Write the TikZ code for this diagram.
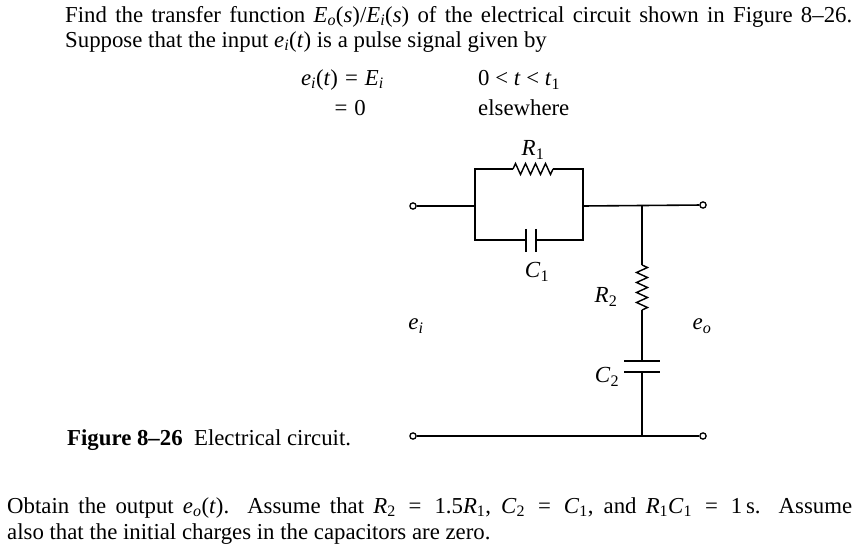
\documentclass[tikz,border=0pt]{standalone}
\usepackage{fontspec}
\setmainfont{Liberation Serif}
\usetikzlibrary{decorations.pathmorphing}
\newcommand\vv[2]{\textit{#1}\textsubscript{\textit{#2}}}
\newcommand\vn[2]{\textit{#1}\textsubscript{#2}}
\newcommand\qeq{\ \,=\,\ }
\begin{document}
\begin{tikzpicture}[x=1pt,y=-1pt,
  txt/.style={anchor=west,inner sep=0pt,font=\fontsize{22.8}{26}\selectfont},
  lab/.style={inner sep=0pt,font=\fontsize{23}{26}\selectfont},
  wire/.style={line width=1.6pt},
  term/.style={circle,draw,line width=1.3pt,inner sep=2.2pt,fill=white},
  res/.style={line width=1.4pt,decorate,decoration={zigzag,segment length=10pt,amplitude=5.5pt}}]
\useasboundingbox (0,0) rectangle (861,553);
% text
\node[txt] (l1) at (65,17) {\makebox[787pt][s]{Find the transfer function \vv{E}{o}(\textit{s})/\vv{E}{i}(\textit{s}) of the electrical circuit shown in Figure 8--26.}};
\node[txt] (l2) at (65,42) {Suppose that the input \vv{e}{i}(\textit{t}) is a pulse signal given by};
\node[txt,anchor=east] (q1) at (384,80) {\vv{e}{i}(\textit{t})\hspace{7pt}=\hspace{7pt}\vv{E}{i}};
\node[txt] (q2) at (478,80) {0 {\textless} \textit{t} {\textless} \vn{t}{1}};
\node[txt,anchor=east] (q3) at (366,108) {=\hspace{7pt}0};
\node[txt] (q4) at (478,108) {elsewhere};
\node[txt] (cap) at (67,440) {\textbf{Figure 8--26}\ \ Electrical circuit.};
\node[txt] (b1) at (7,508) {\makebox[845pt][s]{Obtain the output \vv{e}{o}(\textit{t}). Assume that \vn{R}{2}\qeq 1.5\vn{R}{1}, \vn{C}{2}\qeq\vn{C}{1}, and \vn{R}{1}\vn{C}{1}\qeq 1\,s. Assume}};
\node[txt] (b2) at (7,534) {also that the initial charges in the capacitors are zero.};
% circuit
\node[term] (a) at (413,206) {};
\node[term] (b) at (703,205) {};
\node[term] (c) at (413,436) {};
\node[term] (d) at (703,436) {};
\coordinate (jl) at (475,206);
\coordinate (jr) at (583,206);
\coordinate (jo) at (642,206);
\coordinate (jb) at (642,436);
\draw[wire] (a) -- (jl) -- (475,169) -- (513,169);
\draw[res] (513,169) -- (553,169);
\draw[wire] (553,169) -- (583,169) -- (jr) -- (b);
\draw[wire] (jl) -- (475,240) -- (526,240);
\draw[wire] (526,229) -- (526,252);
\draw[wire] (536,229) -- (536,252);
\draw[wire] (536,240) -- (583,240) -- (jr);
\draw[wire] (jo) -- (642,265);
\draw[res] (642,265) -- (642,310);
\draw[wire] (642,310) -- (642,361);
\draw[wire] (624,361) -- (660,361);
\draw[wire] (624,372) -- (660,372);
\draw[wire] (642,372) -- (jb);
\draw[wire] (c) -- (d);
\node[lab] (r1) at (533,150) {\vn{R}{1}};
\node[lab] (c1) at (537,272) {\vn{C}{1}};
\node[lab] (r2) at (606,297) {\vn{R}{2}};
\node[lab] (c2) at (607,377) {\vn{C}{2}};
\node[lab] (ei) at (416,326) {\vv{e}{i}};
\node[lab] (eo) at (702,326) {\vv{e}{o}};
\end{tikzpicture}
\end{document}
